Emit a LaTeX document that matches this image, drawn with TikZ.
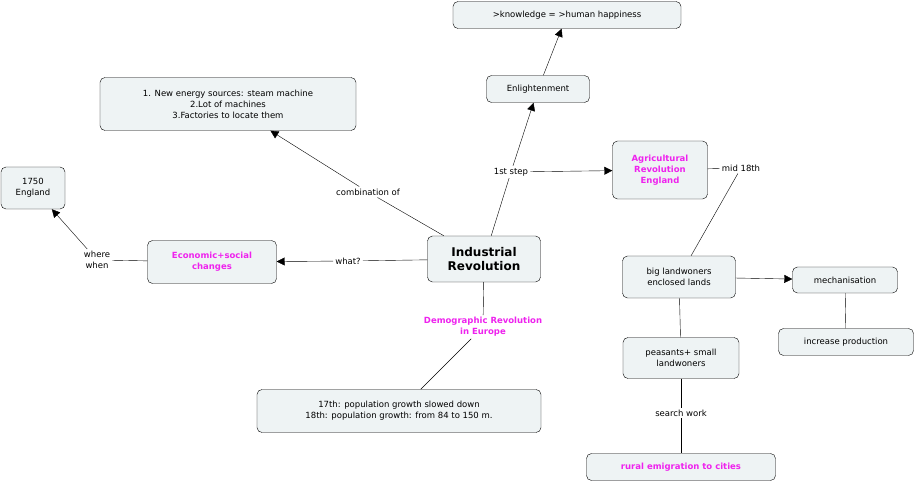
\documentclass[tikz,border=0pt]{standalone}
\usepackage{fontspec}
\setmainfont{DejaVu Sans}
\usetikzlibrary{positioning,arrows.meta}
\definecolor{boxfill}{HTML}{EEF3F4}
\definecolor{mag}{HTML}{EE22EE}
\tikzset{
  concept/.style={draw=black, fill=boxfill, rounded corners=5pt, align=center,
    font=\fontsize{8.5}{11}\selectfont, inner sep=2pt},
  hot/.style={concept, text=mag, font=\fontsize{8.5}{11}\selectfont\bfseries},
  link/.style={fill=white, align=center, font=\fontsize{8.5}{11}\selectfont, inner sep=2pt},
  arr/.style={-{Triangle[length=8pt,width=8pt]}},
}
\begin{document}
\begin{tikzpicture}[x=1pt,y=-1pt]
\useasboundingbox (0,0) rectangle (916,486);
% concepts
\node[concept, minimum width=228, minimum height=27] (know) at (567,15) {>knowledge = >human happiness};
\node[concept, minimum width=103, minimum height=27] (enl) at (538,89) {Enlightenment};
\node[concept, minimum width=256, minimum height=53] (list) at (228,104) {1. New energy sources: steam machine\\2.Lot of machines\\3.Factories to locate them};
\node[concept, minimum width=64, minimum height=42] (year) at (33,188) {1750\\England};
\node[hot, minimum width=95, minimum height=58] (agri) at (660,170) {Agricultural\\Revolution\\England};
\node[hot, minimum width=129, minimum height=43] (econ) at (212,262) {Economic+social\\changes};
\node[concept, minimum width=113, minimum height=46, font=\fontsize{12}{14}\selectfont\bfseries] (ir) at (484,259) {Industrial\\Revolution};
\node[link, text=mag, font=\fontsize{8.5}{11}\selectfont\bfseries] (demo) at (483,327) {Demographic Revolution\\in Europe};
\node[concept, minimum width=113, minimum height=42] (big) at (679,277) {big landwoners\\enclosed lands};
\node[concept, minimum width=105, minimum height=26] (mech) at (845,280) {mechanisation};
\node[concept, minimum width=135, minimum height=27] (incr) at (846,342) {increase production};
\node[concept, minimum width=116, minimum height=41] (peas) at (681,358) {peasants+ small\\landwoners};
\node[hot, minimum width=189, minimum height=27] (rural) at (681,467) {rural emigration to cities};
\node[concept, minimum width=284, minimum height=43] (pop) at (399,411) {17th: population growth slowed down\\18th: population growth: from 84 to 150 m.};
% linking phrases
\node[link] (comb) at (368,192) {combination of};
\node[link] (first) at (511,172) {1st step};
\node[link] (what) at (348,261) {what?};
\node[link] (ww) at (97,260) {where\\when};
\node[link] (mid) at (741,168) {mid 18th};
\node[link] (search) at (681,413) {search work};
% connectors
\draw (ir) -- (comb); \draw[arr] (comb) -- (list);
\draw (ir) -- (first); \draw[arr] (first) -- (enl); \draw[arr] (first) -- (agri);
\draw[arr] (enl) -- (know);
\draw (ir) -- (what); \draw[arr] (what) -- (econ);
\draw (econ) -- (ww); \draw[arr] (ww) -- (year);
\draw (ir) -- (demo); \draw (demo) -- (pop);
\draw (agri) -- (mid); \draw (mid) -- (big);
\draw[arr] (big) -- (mech); \draw (mech) -- (incr);
\draw (big) -- (peas); \draw (peas) -- (search); \draw (search) -- (rural);
\end{tikzpicture}
\end{document}
